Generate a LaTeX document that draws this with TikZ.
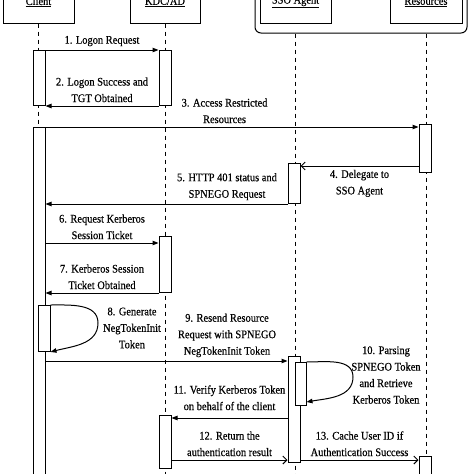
\documentclass[tikz,border=0pt]{standalone}
\usepackage{fontspec}
\setmainfont{Liberation Serif}[FakeStretch=0.9, FakeBold=0.4]
\usetikzlibrary{arrows.meta,positioning,fit}

\tikzset{
 head/.style={draw, minimum height=42pt, inner sep=0pt},
 life/.style={dash pattern=on 4.5pt off 3.5pt},
 bar/.style={draw, fill=white, anchor=north, minimum width=12pt, inner sep=0pt},
 msg/.style={-{Triangle[length=6pt,width=4.5pt]}},
 reply/.style={-{Straight Barb[length=4pt,width=8pt]}},
 lbl/.style={align=center},
}

\begin{document}
\begin{tikzpicture}[x=1pt, y=-1pt, line width=1pt, font=\fontsize{11.6}{16.5}\selectfont]
 \useasboundingbox (0,0) rectangle (474,474);
 \node[head, minimum width=71pt] (client) at (38.5,2) {\underline{Client}};
 \node[head, minimum width=70pt] (kdc) at (165,2) {\underline{KDC/AD}};
 \node[head, minimum width=71pt] (sso) at (295.5,2) {\underline{SSO Agent}};
 \node[head, minimum width=72pt] (res) at (426,2) {\underline{Resources}};
 \node[draw, rounded corners=6pt, inner xsep=4.5pt, inner ysep=9.5pt, fit=(sso)(res)] (agents) {};
 \draw[life] (client.south) -- (client.south |- 0,474);
 \draw[life] (kdc.south) -- (kdc.south |- 0,474);
 \draw[life] (sso.south |- agents.south) -- (sso.south |- 0,474);
 \draw[life] (res.south |- agents.south) -- (res.south |- 0,474);

 \node[bar, minimum height=55pt] (c1) at (39,50) {};
 \node[bar, minimum height=55pt] (k1) at (165,50) {};
 \node[bar, minimum height=360pt] (c2) at (39,127) {};
 \node[bar, minimum height=48pt] (r1) at (425,124) {};
 \node[bar, minimum height=40pt] (s1) at (294,163) {};
 \node[bar, minimum height=56pt] (k2) at (165,236) {};
 \node[bar, minimum height=46pt] (cs) at (44,305) {};
 \node[bar, minimum height=106pt] (s2) at (294,356) {};
 \node[bar, minimum width=11pt, minimum height=43pt] (ss) at (300.5,362) {};
 \node[bar, minimum height=53pt] (k3) at (165,415) {};
 \node[bar, minimum height=30pt] (r2) at (425,456) {};

 \draw[msg] (c1.north east) -- node[above] {1. Logon Request} (k1.north west);
 \draw[msg] (k1.south west) -- node[lbl, above] {2. Logon Success and\\TGT Obtained} (c1.south east);
 \draw[msg] (c2.north east) -- node[lbl, above, pos=0.48] {3. Access Restricted\\Resources} (c2.north east -| r1.west);
 \draw[reply] (r1.west |- 0,166) -- node[lbl, below] {4. Delegate to\\SSO Agent} (s1.east |- 0,166);
 \draw[msg] (s1.south west) -- node[lbl, above, pos=0.25] {5. HTTP 401 status and\\SPNEGO Request} (s1.south west -| c2.east);
 \draw[msg] (c2.east |- 0,243) -- node[lbl, above] {6. Request Kerberos\\Session Ticket} (k2.west |- 0,243);
 \draw[msg] (k2.south west) -- node[lbl, above] {7. Kerberos Session\\Ticket Obtained} (k2.south west -| c2.east);
 \draw[msg] (cs.north east) to[out=0, in=90] (98,323) to[out=-90, in=15] (cs.south east);
 \node[lbl] (gen) at (132,328) {8. Generate\\NegTokenInit\\Token};
 \draw[msg] (c2.east |- 0,361) -- node[lbl, above, pos=0.75] {9. Resend Resource\\Request with SPNEGO\\NegTokenInit Token} (s2.west |- 0,361);
 \draw[msg] (ss.north east) to[out=0, in=90] (353,377) to[out=-90, in=10] ([yshift=4pt]ss.south east);
 \node[lbl] (parse) at (386,375) {10. Parsing\\SPNEGO Token\\and Retrieve\\Kerberos Token};
 \draw[msg] (s2.west |- 0,418) -- node[lbl, above=4pt] {11. Verify Kerberos Token\\on behalf of the client} (k3.east |- 0,418);
 \draw[reply] (k3.east |- 0,460) -- node[lbl, above] {12. Return the\\authentication result} (s2.west |- 0,460);
 \draw[reply] (s2.east |- 0,460) -- node[lbl, above] {13. Cache User ID if\\Authentication Success} (r2.west |- 0,460);
\end{tikzpicture}
\end{document}
